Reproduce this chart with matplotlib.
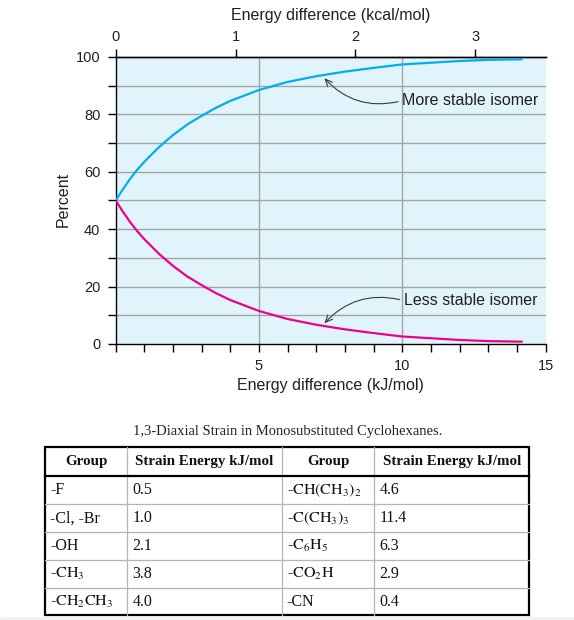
import matplotlib
matplotlib.use('Agg')
import matplotlib.pyplot as plt
from matplotlib.patches import Rectangle

# energy difference in kJ/mol and equilibrium percentages
energy_kj = [0, 0.25, 0.5, 0.75, 1, 1.5, 2, 2.5, 3, 3.5, 4, 5, 6, 7, 8, 9, 10, 11, 12, 13, 14.2]
more_stable = [50, 53.9, 57.5, 60.7, 63.5, 68.5, 72.8, 76.5, 79.5, 82.3, 84.7, 88.5, 91.3,
               93.3, 94.9, 96.2, 97.4, 98.0, 98.6, 99.0, 99.2]
less_stable = [50, 46.1, 42.5, 39.3, 36.5, 31.5, 27.2, 23.5, 20.5, 17.7, 15.3, 11.5, 8.7,
               6.7, 5.1, 3.8, 2.6, 2.0, 1.4, 1.0, 0.8]

KJ_PER_KCAL = 4.184
kcal_ticks = [0, 1, 2, 3]

table_title = '1,3-Diaxial Strain in Monosubstituted Cyclohexanes.'
headers = ['Group', 'Strain Energy kJ/mol', 'Group', 'Strain Energy kJ/mol']
groups_left = ['-F', '-Cl, -Br', '-OH', r'-$\mathrm{CH_3}$', r'-$\mathrm{CH_2CH_3}$']
energy_left = ['0.5', '1.0', '2.1', '3.8', '4.0']
groups_right = [r'-$\mathrm{CH(CH_3)_2}$', r'-$\mathrm{C(CH_3)_3}$', r'-$\mathrm{C_6H_5}$',
                r'-$\mathrm{CO_2H}$', '-CN']
energy_right = ['4.6', '11.4', '6.3', '2.9', '0.4']

TXT = '#231f20'
plt.rcParams['font.family'] = ['Liberation Sans', 'DejaVu Sans']
plt.rcParams['mathtext.fontset'] = 'stix'

fig = plt.figure(figsize=(5.74, 6.2), dpi=100)
fig.patches.append(Rectangle((0, 0), 1, 3 / 620, transform=fig.transFigure,
                             color='#f2f2f2', zorder=0))

# ---- chart ----
ax = fig.add_axes([0.2016, 0.4452, 0.7488, 0.4629])
ax.set_facecolor('#e1f4fc')
ax.set_xlim(0, 15)
ax.set_ylim(0, 100)

for v in range(10, 100, 10):
    ax.axhline(v, color='#a3a3a3', lw=1, zorder=1)
for v in [5, 10]:
    ax.axvline(v, color='#a3a3a3', lw=1, zorder=1)

ax.plot(energy_kj, more_stable, color='#00aeef', lw=1.6, zorder=3, solid_capstyle='butt')
ax.plot(energy_kj, less_stable, color='#ec008c', lw=1.6, zorder=3, solid_capstyle='butt')

ax.set_xticks([5, 10, 15])
ax.set_xticks(range(0, 16), minor=True)
ax.set_yticks(range(0, 101, 20))
ax.set_yticks(range(0, 101, 10), minor=True)
ax.tick_params(which='both', direction='out', length=6, width=1, color='black',
               labelsize=10.5, labelcolor=TXT)
ax.tick_params(axis='x', pad=4.5)
ax.tick_params(axis='y', pad=5)
ax.spines['right'].set_visible(False)
for s in ['left', 'bottom', 'top']:
    ax.spines[s].set_linewidth(1)

ax.set_xlabel('Energy difference (kJ/mol)', fontsize=11.5, color=TXT)
ax.xaxis.label.set_va('center')
ax.xaxis.set_label_coords(0.5, -0.143)
ax.set_ylabel('Percent', fontsize=11.5, color=TXT)
ax.yaxis.label.set_va('center')
ax.yaxis.set_label_coords(-0.122, 0.502)

top = ax.secondary_xaxis('top', functions=(lambda x: x / KJ_PER_KCAL,
                                           lambda x: x * KJ_PER_KCAL))
top.set_xticks(kcal_ticks)
top.tick_params(direction='out', length=6, width=1, labelsize=10.5,
                labelcolor=TXT, pad=3)
top.spines['top'].set_linewidth(1)
ax.text(0.501, 1.146, 'Energy difference (kcal/mol)', transform=ax.transAxes,
        ha='center', va='center', fontsize=11.5, color=TXT)

arrow = dict(arrowstyle='->,head_length=0.45,head_width=0.2', color='#3a3a3a',
             lw=0.8, shrinkA=1, shrinkB=0, relpos=(0, 0.5))
ax.annotate('More stable isomer', xy=(7.28, 92.6), xytext=(10.0, 84.8),
            ha='left', va='center', fontsize=11.5, color=TXT,
            arrowprops=dict(arrow, connectionstyle='arc3,rad=-0.3'), zorder=4)
ax.annotate('Less stable isomer', xy=(7.28, 7.2), xytext=(10.05, 15.1),
            ha='left', va='center', fontsize=11.5, color=TXT,
            arrowprops=dict(arrow, connectionstyle='arc3,rad=0.3'), zorder=4)

# ---- table (pixel layout) ----
tab = fig.add_axes([0, 0, 1, 1])
tab.set_xlim(0, 574)
tab.set_ylim(620, 0)
tab.axis('off')

col_edges = [45.3, 127.3, 281.7, 374.3, 529.3]
row_edges = [447.3, 475.7, 504, 532.3, 560, 588, 615.3]

tab.text((col_edges[0] + col_edges[-1]) / 2, 431.7, table_title, ha='center',
         va='center', family='Liberation Serif', fontsize=10.5, color='#222222')

for x in col_edges[1:-1]:
    tab.plot([x, x], [row_edges[0], row_edges[-1]], color='#b5b5b5', lw=0.9)
for y in row_edges[2:-1]:
    tab.plot([col_edges[0], col_edges[-1]], [y, y], color='#b5b5b5', lw=0.9)
tab.plot([col_edges[0], col_edges[-1]], [row_edges[1], row_edges[1]], color='black', lw=1.6)
tab.add_patch(Rectangle((col_edges[0], row_edges[0]), col_edges[-1] - col_edges[0],
                        row_edges[-1] - row_edges[0], fill=False, ec='black', lw=1.6))

for i, h in enumerate(headers):
    tab.text((col_edges[i] + col_edges[i + 1]) / 2, (row_edges[0] + row_edges[1]) / 2, h,
             ha='center', va='center', family='Liberation Serif', weight='bold',
             fontsize=10.8, color='#111111')

columns = [groups_left, energy_left, groups_right, energy_right]
for c, values in enumerate(columns):
    for r, val in enumerate(values):
        tab.text(col_edges[c] + 5, (row_edges[r + 1] + row_edges[r + 2]) / 2, val,
                 ha='left', va='center', family='Liberation Serif',
                 fontsize=11.5, color='#111111')

fig.savefig('out.png', dpi=100)
